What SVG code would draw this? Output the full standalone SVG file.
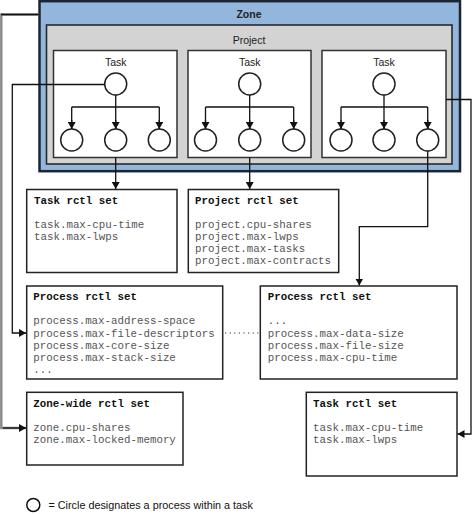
<svg xmlns="http://www.w3.org/2000/svg" width="474" height="514" viewBox="0 0 474 514">
<style>
.lbl{font-family:"Liberation Sans",Arial,sans-serif;font-size:10.5px;fill:#222;text-anchor:middle}
.zl{font-weight:bold}
.box{fill:#fff;stroke:#222;stroke-width:1.5}
.task{fill:#fff;stroke:#333;stroke-width:1.5}
.proc{fill:#fff;stroke:#222;stroke-width:1.5}
.hd{font-family:"Liberation Mono","Courier New",monospace;font-size:10.8px;font-weight:bold;fill:#111}
.ln{font-family:"Liberation Mono","Courier New",monospace;font-size:10.8px;fill:#555}
.c{fill:none;stroke:#111;stroke-width:1.3}
.legend{font-family:"Liberation Sans",Arial,sans-serif;font-size:10.8px;fill:#111}
</style>
<defs>
<marker id="ah" markerUnits="userSpaceOnUse" markerWidth="8" markerHeight="8" refX="7" refY="4" orient="auto">
<path d="M0,0 L7,4 L0,8 Z" fill="#111"/>
</marker>
</defs>
<rect width="474" height="514" fill="#fff"/>
<g id="zone">
<rect x="39.5" y="1.2" width="420.5" height="170" fill="#93b6dc" stroke="#1c2633" stroke-width="2.5"/>
<text class="lbl zl" x="249" y="18">Zone</text>
</g>
<g id="project">
<rect x="46.5" y="25" width="405.5" height="139" fill="#d3d3d3" stroke="#2a2a2a" stroke-width="1.6"/>
<text class="lbl" x="249" y="43.5">Project</text>
</g>
<g id="task1">
<rect class="task" x="53.5" y="50.5" width="123.5" height="107"/>
<text class="lbl" x="115.7" y="65.5">Task</text>
<circle class="proc" cx="115.7" cy="84" r="11"/>
<circle class="proc" cx="71.7" cy="140" r="11"/>
<circle class="proc" cx="115.7" cy="140" r="11"/>
<circle class="proc" cx="159.3" cy="140" r="11"/>
<path class="c" d="M115.7,95 V129 M71.7,107 H159.3 M71.7,107 V129 M159.3,107 V129" marker-end="none"/>
<path class="c" d="M115.7,120 V129" marker-end="url(#ah)"/>
<path class="c" d="M71.7,120 V129" marker-end="url(#ah)"/>
<path class="c" d="M159.3,120 V129" marker-end="url(#ah)"/>
</g>
<g id="task2">
<rect class="task" x="188" y="50.5" width="123" height="107"/>
<text class="lbl" x="249.7" y="65.5">Task</text>
<circle class="proc" cx="249.7" cy="84" r="11"/>
<circle class="proc" cx="205.5" cy="140" r="11"/>
<circle class="proc" cx="249.7" cy="140" r="11"/>
<circle class="proc" cx="293.7" cy="140" r="11"/>
<path class="c" d="M249.7,95 V129 M205.5,107 H293.7 M205.5,107 V129 M293.7,107 V129"/>
<path class="c" d="M249.7,120 V129" marker-end="url(#ah)"/>
<path class="c" d="M205.5,120 V129" marker-end="url(#ah)"/>
<path class="c" d="M293.7,120 V129" marker-end="url(#ah)"/>
</g>
<g id="task3">
<rect class="task" x="322" y="50.5" width="124" height="107"/>
<text class="lbl" x="384" y="65.5">Task</text>
<circle class="proc" cx="384" cy="84" r="11"/>
<circle class="proc" cx="341" cy="140" r="11"/>
<circle class="proc" cx="384" cy="140" r="11"/>
<circle class="proc" cx="427.7" cy="140" r="11"/>
<path class="c" d="M384,95 V129 M341,107 H427.7 M341,107 V129 M427.7,107 V129"/>
<path class="c" d="M384,120 V129" marker-end="url(#ah)"/>
<path class="c" d="M341,120 V129" marker-end="url(#ah)"/>
<path class="c" d="M427.7,120 V129" marker-end="url(#ah)"/>
</g>
<g id="task-rctl-1">
<rect class="box" x="26.7" y="189.5" width="150.3" height="83"/>
<text class="hd" x="34" y="203.5">Task rctl set</text>
<text class="ln" x="34" y="227.5">task.max-cpu-time</text>
<text class="ln" x="34" y="239.8">task.max-lwps</text>
</g>
<g id="project-rctl">
<rect class="box" x="188.3" y="189.5" width="150.4" height="83"/>
<text class="hd" x="195" y="203.5">Project rctl set</text>
<text class="ln" x="195" y="227.5">project.cpu-shares</text>
<text class="ln" x="195" y="239.8">project.max-lwps</text>
<text class="ln" x="195" y="252.1">project.max-tasks</text>
<text class="ln" x="195" y="264.4">project.max-contracts</text>
</g>
<g id="process-rctl-1">
<rect class="box" x="26.7" y="286" width="196" height="93"/>
<text class="hd" x="33.3" y="300.2">Process rctl set</text>
<text class="ln" x="33.3" y="324.2">process.max-address-space</text>
<text class="ln" x="33.3" y="336.5">process.max-file-descriptors</text>
<text class="ln" x="33.3" y="348.8">process.max-core-size</text>
<text class="ln" x="33.3" y="361.1">process.max-stack-size</text>
<text class="ln" x="33.3" y="373.4">...</text>
</g>
<g id="process-rctl-2">
<rect class="box" x="260.3" y="286" width="196.7" height="93"/>
<text class="hd" x="267.7" y="300.2">Process rctl set</text>
<text class="ln" x="267.7" y="324.2">...</text>
<text class="ln" x="267.7" y="336.5">process.max-data-size</text>
<text class="ln" x="267.7" y="348.8">process.max-file-size</text>
<text class="ln" x="267.7" y="361.1">process.max-cpu-time</text>
</g>
<g id="zone-rctl">
<rect class="box" x="26.7" y="392.3" width="156.3" height="72.7"/>
<text class="hd" x="33.3" y="406.8">Zone-wide rctl set</text>
<text class="ln" x="33.3" y="430.8">zone.cpu-shares</text>
<text class="ln" x="33.3" y="443.2">zone.max-locked-memory</text>
</g>
<g id="task-rctl-2">
<rect class="box" x="306.3" y="392.3" width="150.7" height="83.7"/>
<text class="hd" x="313" y="406.8">Task rctl set</text>
<text class="ln" x="313" y="430.8">task.max-cpu-time</text>
<text class="ln" x="313" y="443.2">task.max-lwps</text>
</g>
<g id="connectors">
<path d="M39,14.5 H1.3 V428 H26" fill="none" stroke="#888" stroke-width="2.4"/>
<path class="c" d="M1,14.5 H39"/>
<path class="c" d="M3,428 H26" marker-end="url(#ah)"/>
<path class="c" d="M104.7,84.5 H12.3 V333 H26" marker-end="url(#ah)"/>
<path class="c" d="M115.7,157.5 V189" marker-end="url(#ah)"/>
<path class="c" d="M249.7,157.5 V189" marker-end="url(#ah)"/>
<path class="c" d="M427.7,151 V226.7 H359.3 V285.5" marker-end="url(#ah)"/>
<path class="c" d="M446,99.5 H471 V434 H457.5" marker-end="url(#ah)"/>
<path d="M225,333 H259" fill="none" stroke="#333" stroke-width="1.2" stroke-dasharray="1.2 3.4"/>
</g>
<g id="legend">
<circle cx="33.3" cy="505" r="6.5" fill="#fff" stroke="#111" stroke-width="1.5"/>
<text class="legend" x="48.5" y="509">= Circle designates a process within a task</text>
</g>
</svg>
